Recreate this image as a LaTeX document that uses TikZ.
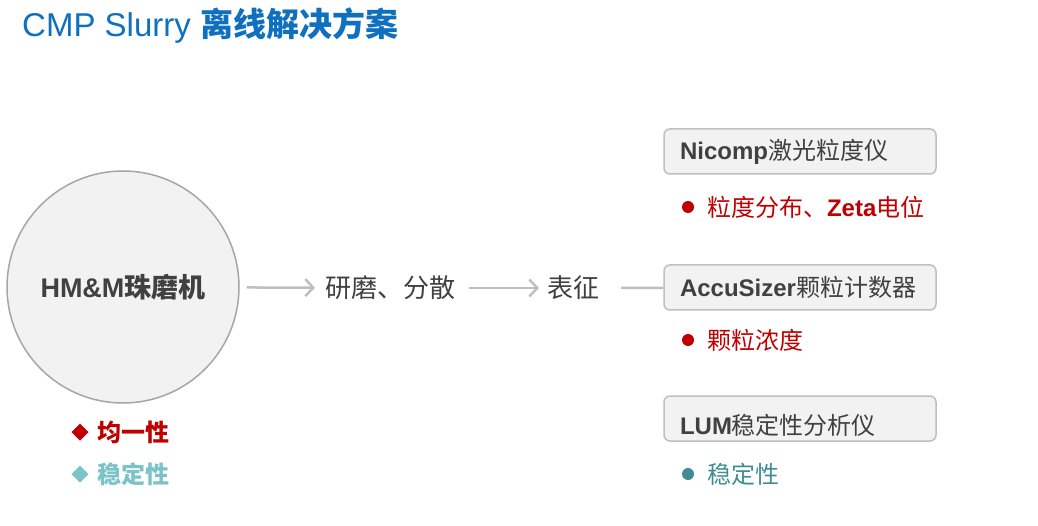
\documentclass[tikz,border=0pt]{standalone}
\usepackage{fontspec}
\setmainfont{Noto Sans CJK SC}
\newfontfamily\lat{Liberation Sans}
\usetikzlibrary{positioning,shapes.geometric,arrows.meta}

\definecolor{titleblue}{HTML}{1070C0}
\definecolor{darkred}{HTML}{C00000}
\definecolor{darkteal}{HTML}{3D8D93}
\definecolor{lightteal}{HTML}{7CC3C8}
\definecolor{textgray}{HTML}{404040}
\definecolor{linegray}{HTML}{BFBFBF}
\definecolor{boxfill}{HTML}{F2F2F2}

\begin{document}
\begin{tikzpicture}[x=1pt,y=-1pt,
    mill/.style={circle, draw=black!35, line width=1.5pt, fill=boxfill,
        minimum size=232pt, inner sep=0pt, text=textgray,
        font=\fontsize{27pt}{32pt}\selectfont\bfseries},
    stage/.style={inner sep=0pt, outer sep=0pt, text=textgray,
        font=\fontsize{26pt}{31pt}\selectfont},
    instr/.style={draw=linegray, line width=1.5pt, fill=boxfill,
        rounded corners=6pt, minimum width=272pt, minimum height=45pt,
        text width=240pt, inner xsep=16pt, align=left, text=textgray,
        font=\fontsize{24pt}{29pt}\selectfont},
    flow/.style={draw=linegray, line width=2.5pt,
        -{Straight Barb[length=8pt,width=17pt]}},
    dot/.style={circle, fill=#1, minimum size=12pt, inner sep=0pt, outer sep=0pt},
    gem/.style={diamond, fill=#1, minimum size=17pt, inner sep=0pt, outer sep=0pt},
    note/.style={inner sep=0pt, outer sep=0pt, text=#1,
        font=\fontsize{24pt}{29pt}\selectfont}]
    \useasboundingbox (0,0) rectangle (1038,526);
    % Tytul
    \node[anchor=base west, inner sep=0pt, text=titleblue,
        font=\fontsize{33pt}{38pt}\selectfont] (title) at (22,37)
        {{\lat CMP Slurry }\textbf{离线解决方案}};
    % Przebieg
    \node[mill] (mill) at (123,287) {{\lat HM\&M}珠磨机};
    \node[stage] (grind) at (390,288) {研磨、分散};
    \node[stage] (char) at (573,288) {表征};
    \draw[flow, shorten <=7pt, shorten >=10pt] (mill) -- (grind);
    \draw[flow, shorten <=14pt, shorten >=8pt] (grind) -- (char);
    % Przyrzady
    \node[instr] (nicomp) at (800,151.5) {\textbf{\lat Nicomp}激光粒度仪};
    \node[instr] (accu) at (800,287.5) {\textbf{\lat AccuSizer}颗粒计数器};
    \node[instr] (lum) at (800,418.5)
        {\raisebox{-7pt}[\height][\depth]{\textbf{\lat LUM}稳定性分析仪}};
    \draw[draw=linegray, line width=2.5pt, shorten <=22pt] (char) -- (accu);
    % Wlasciwosci
    \node[dot=darkred] (d1) at (688,207) {};
    \node[note=darkred, right=13pt of d1] (n1) {粒度分布、\textbf{\lat Zeta}电位};
    \node[dot=darkred] (d2) at (688,340) {};
    \node[note=darkred, right=13pt of d2] (n2) {颗粒浓度};
    \node[dot=darkteal] (d3) at (688,474) {};
    \node[note=darkteal, right=13pt of d3] (n3) {稳定性};
    \node[gem=darkred] (g1) at (80,432) {};
    \node[note=darkred, right=9pt of g1, font=\fontsize{24pt}{29pt}\selectfont\bfseries] (m1) {均一性};
    \node[gem=lightteal] (g2) at (80,474) {};
    \node[note=lightteal, right=9pt of g2, font=\fontsize{24pt}{29pt}\selectfont\bfseries] (m2) {稳定性};
\end{tikzpicture}
\end{document}
